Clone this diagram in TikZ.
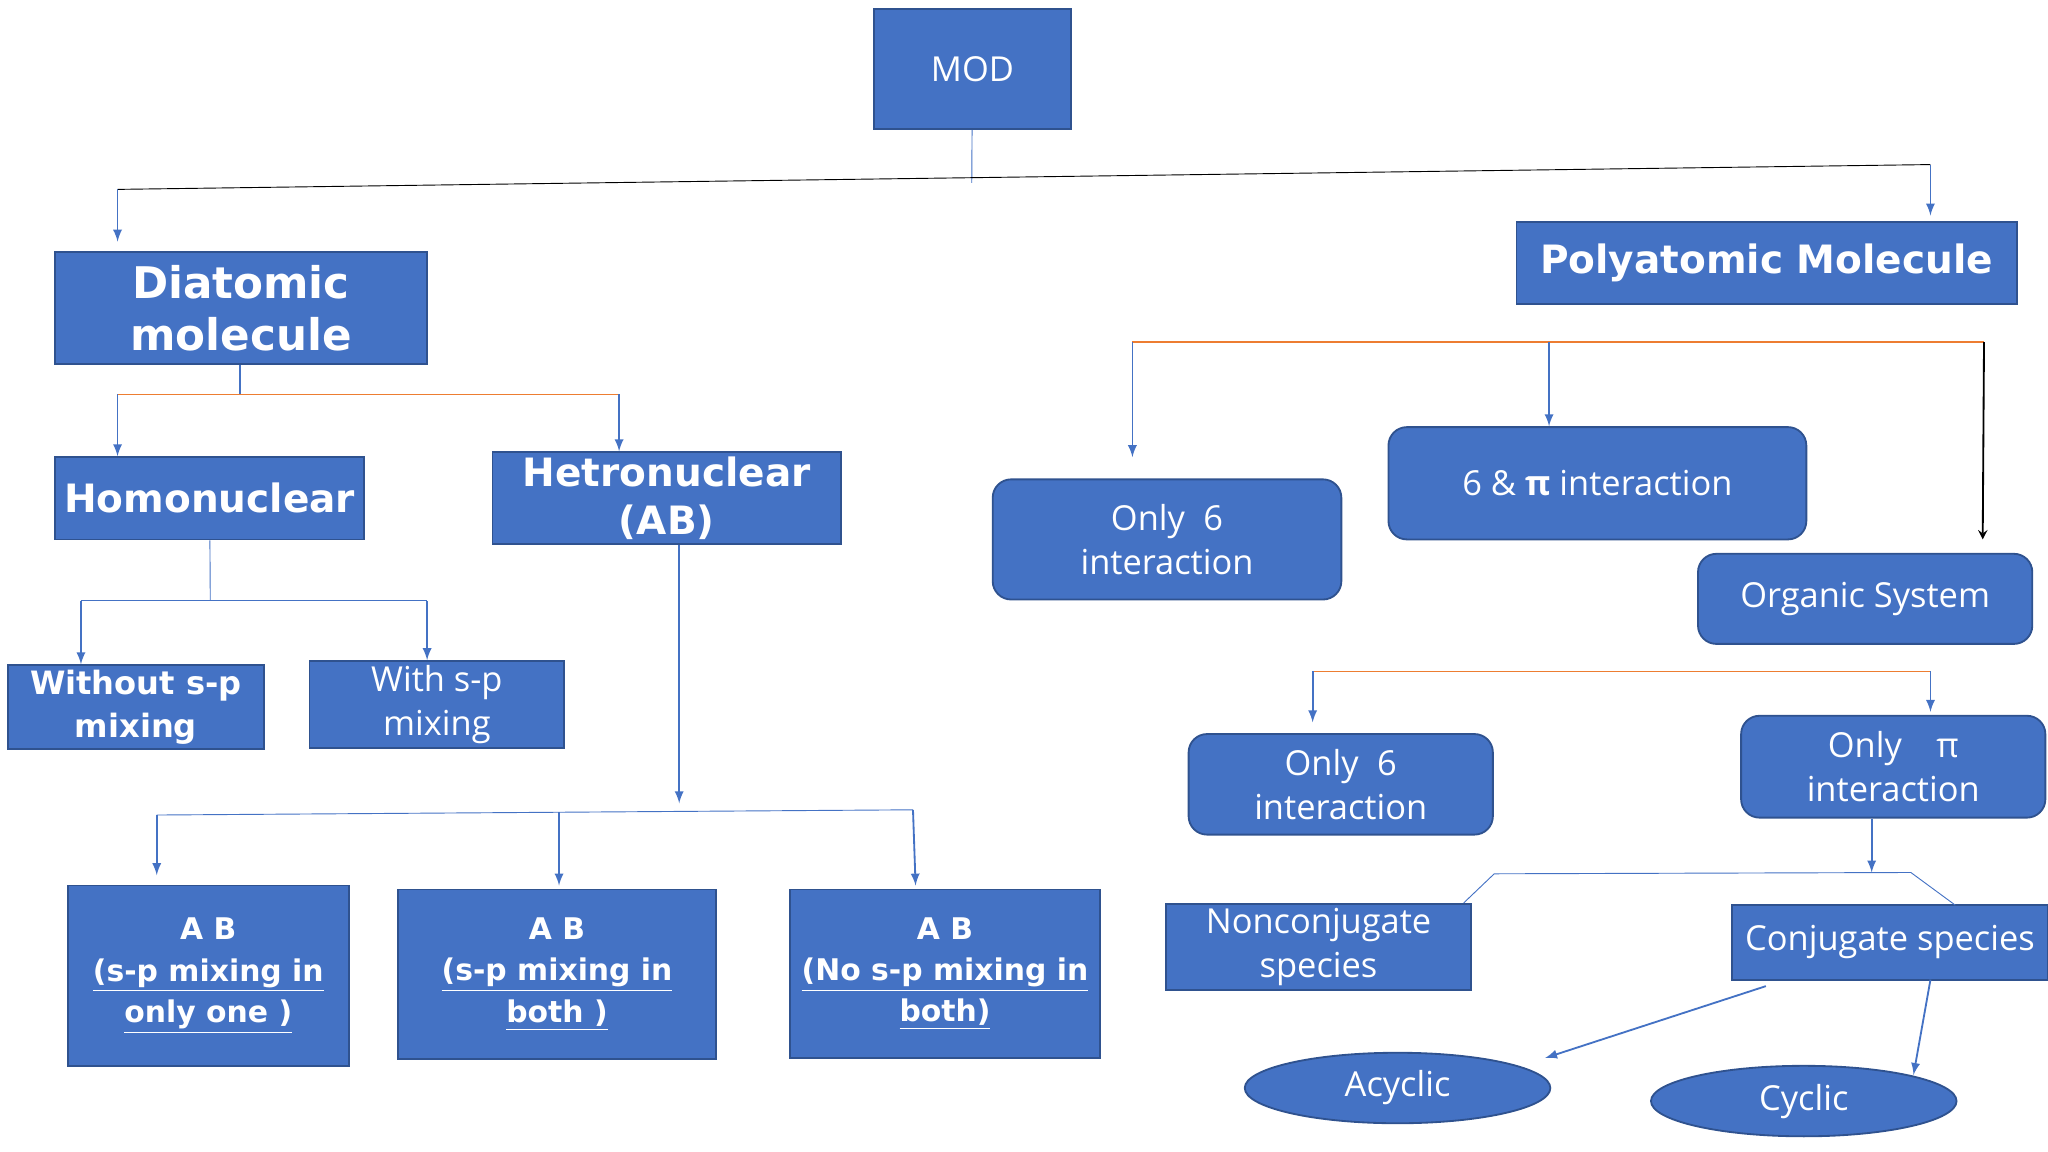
\documentclass[tikz,border=0pt]{standalone}
\usepackage{fontspec}
\setmainfont{Open Sans}
\newfontfamily\boldface{DejaVu Sans}
\usetikzlibrary{shapes.geometric}
\definecolor{boxblue}{HTML}{4472C4}
\definecolor{boxedge}{HTML}{2F528F}
\definecolor{linkorange}{HTML}{ED7D31}
\tikzset{
  box/.style={draw=boxedge, thick, fill=boxblue, text=white, align=center, inner sep=2pt,
    font=\fontsize{15}{19}\selectfont},
  rbox/.style={box, rounded corners=8pt},
  bbox/.style={box, font=\boldface\bfseries\fontsize{17}{21}\selectfont},
  oval/.style={box, ellipse, inner sep=0pt},
  link/.style={draw=boxblue, thick},
  arr/.style={link, -latex},
}
\newcommand{\ul}[1]{\underline{#1}}
\begin{document}
\begin{tikzpicture}[x=0.02cm,y=-0.02cm]
\useasboundingbox (0,0) rectangle (1568,882);

% boxes
\node[box, minimum width=3.02cm, minimum height=1.84cm] (mod) at (744.5,53) {MOD};
\node[bbox, minimum width=5.7cm, minimum height=1.72cm, font=\boldface\bfseries\fontsize{19}{23}\selectfont] (dia) at (184.5,236) {Diatomic\\molecule};
\node[bbox, minimum width=7.66cm, minimum height=1.26cm] (poly) at (1352.5,201.5) {Polyatomic Molecule};
\node[bbox, minimum width=4.74cm, minimum height=1.26cm] (homo) at (160.5,381.5) {Homonuclear};
\node[bbox, minimum width=5.34cm, minimum height=1.26cm] (hetero) at (510.5,381.5) {Hetronuclear\\(AB)};
\node[bbox, minimum width=3.92cm, minimum height=1.26cm, font=\boldface\bfseries\fontsize{14}{19}\selectfont] (without) at (104,541.5) {Without s-p\\mixing};
\node[box, minimum width=3.9cm, minimum height=1.26cm] (with) at (334.5,539.5) {With s-p\\mixing};
\node[bbox, minimum width=4.3cm, minimum height=2.76cm, font=\boldface\bfseries\fontsize{13}{18}\selectfont] (abone) at (159.5,747) {A B\\\ul{(s-p mixing in}\\\ul{only one )}};
\node[bbox, minimum width=4.86cm, minimum height=2.6cm, font=\boldface\bfseries\fontsize{13}{18}\selectfont] (abboth) at (426.5,746) {A B\\\ul{(s-p mixing in}\\\ul{both )}};
\node[bbox, minimum width=4.74cm, minimum height=2.58cm, font=\boldface\bfseries\fontsize{13}{18}\selectfont] (abnone) at (723.5,745.5) {A B\\\ul{(No s-p mixing in}\\\ul{both)}};

\node[rbox, minimum width=5.34cm, minimum height=1.84cm] (sigma) at (893.5,413) {Only\; 6\\interaction};
\node[rbox, minimum width=6.4cm, minimum height=1.72cm] (sigpi) at (1223,370) {6 \& \textbf{π} interaction};
\node[rbox, minimum width=5.12cm, minimum height=1.38cm] (organic) at (1428,458.5) {Organic System};
\node[rbox, minimum width=4.66cm, minimum height=1.54cm] (osigma) at (1026.5,600.5) {Only\; 6\\interaction};
\node[rbox, minimum width=4.66cm, minimum height=1.56cm] (opi) at (1449.5,587) {Only\quad π\\interaction};
\node[box, minimum width=4.66cm, minimum height=1.12cm] (noncon) at (1009.5,725) {Nonconjugate\\species};
\node[box, minimum width=4.84cm, minimum height=1.14cm] (conj) at (1447,721.5) {Conjugate species};
\node[oval, minimum width=4.68cm, minimum height=1.08cm] (acyc) at (1070,833) {Acyclic};
\node[oval, minimum width=4.68cm, minimum height=1.08cm] (cyc) at (1381,843) {Cyclic};

% joints
\coordinate (m1) at (744,140);
\coordinate (m2) at (90,145);
\coordinate (m3) at (1478,126);
\coordinate (d1) at (90,302);
\coordinate (d2) at (474,302);
\coordinate (h1) at (62,460);
\coordinate (h2) at (327,460);
\coordinate (e0) at (520,615);
\coordinate (e1) at (120,624);
\coordinate (e2) at (428,622);
\coordinate (e3) at (699,620);
\coordinate (p1) at (867,262);
\coordinate (p2) at (1186,262);
\coordinate (p3) at (1519,262);
\coordinate (o1) at (1005,514);
\coordinate (o2) at (1478,514);
\coordinate (c1) at (1144,669);
\coordinate (c2) at (1463,668);

% connectors
\draw[link, thin] (mod) -- (m1);
\draw[link, thin, draw=black] (m2) -- (m3);
\draw[arr] (m2) -- (90,185);
\draw[arr] (m3) -- (1478,165);
\draw[link] (dia.south -| 184,0) -- (184,302);
\draw[thick, draw=linkorange] (d1) -- (d2);
\draw[arr] (d1) -- (d1 |- homo.north);
\draw[arr] (d2) -- (d2 |- hetero.north);
\draw[link, thin] (homo) -- (161,460);
\draw[link, thin] (h1) -- (h2);
\draw[arr] (h1) -- (h1 |- without.north);
\draw[arr] (h2) -- (h2 |- with.north);
\draw[arr] (hetero.south -| e0) -- (e0);
\draw[link, thin] (e1) -- (e3);
\draw[arr] (e1) -- (120,670);
\draw[arr] (e2) -- (428,678);
\draw[arr] (e3) -- (701,678);
\draw[thick, draw=linkorange] (p1) -- (p3);
\draw[arr] (p1) -- (867,350);
\draw[arr] (p2) -- (sigpi.north -| p2);
\draw[thick, -stealth] (p3) -- (1518,413);
\draw[thin, draw=linkorange] (o1) -- (o2);
\draw[arr] (o1) -- (1005,553);
\draw[arr] (o2) -- (1478,545);
\draw[arr] (opi.south -| 1433,0) -- (1433,668);
\draw[link, thin] (noncon.north east) ++(-6,0) -- (c1) -- (c2) -- (1497,693);
\draw[arr] (1352,755) -- (1183,810);
\draw[arr] (1478,750) -- (1465,823);
\end{tikzpicture}
\end{document}
